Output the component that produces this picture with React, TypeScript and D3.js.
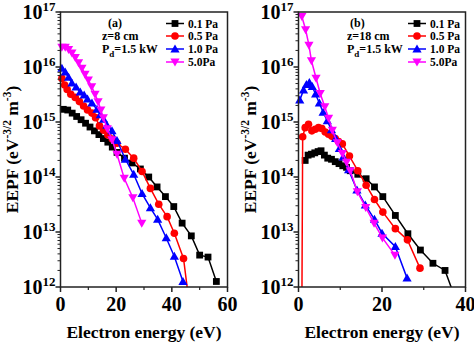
import React from 'react';
import * as d3 from 'd3';

const W = 474;
const H = 357;
const FONT = "'Liberation Serif','Times New Roman',Times,serif";

// ---------- Panel (a): z = 8 cm ----------
const aEnergy01 = [1.0, 2.6, 4.2, 5.8, 7.4, 9.0, 10.6, 12.2, 13.8, 15.4, 17.0, 18.6, 20.3, 23.0, 25.7, 28.7, 31.7, 34.7, 37.7, 40.7, 43.7, 47.0, 50.0, 53.0, 56.0];
const aEepf01 = [1.7e15, 1.65e15, 1.45e15, 1.26e15, 1.1e15, 9.5e14, 8.1e14, 6.9e14, 5.9e14, 5.0e14, 4.3e14, 3.5e14, 2.8e14, 2.2e14, 1.8e14, 1.4e14, 1.0e14, 6.6e13, 4.4e13, 2.9e13, 1.45e13, 8.5e12, 3.8e12, 3.5e12, 1.26e12];

const aEnergy05 = [0.5, 1.5, 2.4, 3.7, 5.3, 6.8, 8.3, 9.7, 11.3, 12.6, 14.0, 15.5, 17.0, 18.6, 20.3, 23.3, 26.3, 29.3, 32.3, 35.3, 38.3, 40.9, 44.2, 46.0];
const aEepf05 = [6.2e15, 4.7e15, 3.9e15, 3.2e15, 2.8e15, 2.35e15, 1.95e15, 1.66e15, 1.45e15, 1.2e15, 8.5e14, 7.1e14, 5.8e14, 4.9e14, 4.1e14, 3.2e14, 2.2e14, 1.26e14, 6.2e13, 3.2e13, 1.9e13, 9.5e12, 3.3e12, 6.3e11];

const aEnergy10 = [0.5, 1.7, 2.9, 4.1, 5.6, 7.1, 8.5, 9.7, 11.3, 13.1, 14.3, 15.5, 16.7, 18.5, 20.3, 23.3, 26.3, 29.3, 32.3, 34.9, 38.0, 40.9, 44.0];
const aEepf10 = [9.5e15, 8.1e15, 6.5e15, 5.1e15, 4.3e15, 3.5e15, 3.1e15, 2.6e15, 2.2e15, 1.7e15, 1.35e15, 1.12e15, 8.7e14, 6.9e14, 4.6e14, 2.1e14, 1.12e14, 5.0e13, 2.75e13, 1.7e13, 7.8e12, 3.6e12, 1.26e12];

const aEnergy50 = [0.5, 1.7, 2.9, 4.1, 5.3, 6.5, 7.7, 8.8, 10.0, 11.2, 12.4, 13.5, 14.5, 15.4, 16.8, 18.5, 20.3, 22.9, 26.0, 29.2];
const aEepf50 = [2.3e16, 2.3e16, 2.1e16, 1.8e16, 1.5e16, 1.2e16, 9.5e15, 7.4e15, 5.8e15, 4.4e15, 3.2e15, 2.35e15, 1.66e15, 1.2e15, 7.6e14, 4.8e14, 2.6e14, 9.5e13, 4.2e13, 1.45e13];

// ---------- Panel (b): z = 18 cm ----------
const bEnergy01 = [1.6, 2.3, 3.1, 3.9, 4.7, 5.4, 6.2, 7.0, 7.9, 8.8, 9.7, 10.6, 11.5, 12.4, 14.2, 16.2, 18.2, 20.2, 23.2, 26.2, 29.2, 32.2, 35.1, 38.0];
const bEepf01 = [2.0e14, 2.5e14, 2.6e14, 2.75e14, 2.9e14, 3.0e14, 2.5e14, 2.2e14, 2.1e14, 1.9e14, 1.75e14, 1.6e14, 1.5e14, 1.3e14, 1.12e14, 9.3e13, 6.6e13, 4.4e13, 2.0e13, 9.3e12, 4.7e12, 2.7e12, 2.0e12, 5.0e11];

const bEnergy05 = [0.8, 1.0, 1.6, 2.4, 3.2, 4.0, 4.8, 5.6, 6.4, 7.2, 8.0, 8.8, 9.6, 10.5, 12.2, 14.2, 16.2, 18.2, 20.2, 23.2, 26.1, 29.1];
const bEepf05 = [3.0e11, 5.4e14, 7.9e14, 9.1e14, 6.9e14, 7.4e14, 7.9e14, 7.6e14, 6.6e14, 6.0e14, 5.5e14, 5.0e14, 4.4e14, 4.0e14, 2.4e14, 1.3e14, 7.1e13, 3.9e13, 2.3e13, 1.15e13, 7.2e12, 2.2e12];

const bEnergy10 = [0.3, 1.2, 1.9, 2.6, 3.3, 4.1, 5.0, 5.9, 6.9, 7.9, 8.9, 9.8, 10.7, 12.0, 14.0, 16.0, 18.2, 20.0, 23.2, 26.0];
const bEepf10 = [2.5e15, 3.8e15, 4.8e15, 5.2e15, 4.4e15, 3.2e15, 2.2e15, 1.5e15, 1.05e15, 7.2e14, 5.0e14, 3.3e14, 2.3e14, 1.35e14, 5.8e13, 3.1e13, 1.7e13, 9.5e12, 5.4e12, 1.45e12];

const bEnergy50 = [0.8, 1.7, 2.5, 3.1, 4.2, 5.2, 6.3, 7.2, 8.1, 9.3, 10.5, 11.5, 12.4, 14.1, 16.1, 18.1, 20.1, 23.1];
const bEepf50 = [8.3e16, 4.8e16, 2.5e16, 1.3e16, 6.3e15, 3.3e15, 1.9e15, 1.17e15, 7.1e14, 4.2e14, 2.7e14, 1.86e14, 1.3e14, 5.4e13, 2.8e13, 1.45e13, 7.8e12, 3.8e12];

// ---------- Axes / legend text ----------
const xTicksA = [0, 20, 40, 60];
const xMinorA = [10, 30, 50];
const xTicksB = [0, 20, 40];
const xMinorB = [10, 30];
const yDecades = [12, 13, 14, 15, 16, 17];
const legendLabels = ['0.1 Pa', '0.5 Pa', '1.0 Pa', '5.0Pa'];
const xTitle = 'Electron energy (eV)';

// styles
const colors = ['#000000', '#ff0000', '#0000ff', '#ff00ff'];
const shapes = ['square', 'circle', 'tri', 'triDown'];

function Marker({ shape, x, y, color }: { shape: string; x: number; y: number; color: string }) {
  if (shape === 'square') return <rect x={x - 3.4} y={y - 3.4} width={6.8} height={6.8} fill={color} />;
  if (shape === 'circle') return <circle cx={x} cy={y} r={3.8} fill={color} />;
  if (shape === 'tri')
    return <path d={`M${x},${y - 4.6}L${x + 4.6},${y + 3.4}L${x - 4.6},${y + 3.4}Z`} fill={color} />;
  return <path d={`M${x},${y + 4.6}L${x + 4.6},${y - 3.4}L${x - 4.6},${y - 3.4}Z`} fill={color} />;
}

type Panel = {
  id: string;
  left: number;
  right: number;
  top: number;
  bottom: number;
  xMax: number;
  xTicks: number[];
  xMinor: number[];
  series: { xs: number[]; ys: number[] }[];
  tag: string;
  zText: string;
  annX: number;
  tagX: number;
  legX: number;
  yTitleX: number;
};

const panels: Panel[] = [
  {
    id: 'a', left: 60.5, right: 227.5, top: 12, bottom: 287, xMax: 60,
    xTicks: xTicksA, xMinor: xMinorA,
    series: [
      { xs: aEnergy01, ys: aEepf01 },
      { xs: aEnergy05, ys: aEepf05 },
      { xs: aEnergy10, ys: aEepf10 },
      { xs: aEnergy50, ys: aEepf50 },
    ],
    tag: '(a)', zText: 'z=8 cm', annX: 102, tagX: 108, legX: 166, yTitleX: 18,
  },
  {
    id: 'b', left: 298.5, right: 465.5, top: 12, bottom: 287, xMax: 40,
    xTicks: xTicksB, xMinor: xMinorB,
    series: [
      { xs: bEnergy01, ys: bEepf01 },
      { xs: bEnergy05, ys: bEepf05 },
      { xs: bEnergy10, ys: bEepf10 },
      { xs: bEnergy50, ys: bEepf50 },
    ],
    tag: '(b)', zText: 'z=18 cm', annX: 347, tagX: 350, legX: 408, yTitleX: 256,
  },
];

function PanelView({ p }: { p: Panel }) {
  const x = d3.scaleLinear().domain([0, p.xMax]).range([p.left, p.right]);
  const y = d3.scaleLog().domain([1e12, 1e17]).range([p.bottom, p.top]);
  const line = d3
    .line<[number, number]>()
    .x((d) => x(d[0]))
    .y((d) => y(d[1]));
  const minorY: number[] = [];
  for (let e = 12; e < 17; e++) for (let m = 2; m <= 9; m++) minorY.push(m * Math.pow(10, e));
  const clipId = 'clip-' + p.id;
  const legYs = [23.5, 36, 49, 62];
  const cx = (p.left + p.right) / 2;
  const cy = (p.top + p.bottom) / 2;
  return (
    <g>
      <defs>
        <clipPath id={clipId}>
          <rect x={p.left - 6} y={p.top - 6} width={p.right - p.left + 12} height={p.bottom - p.top + 6} />
        </clipPath>
      </defs>
      <g clipPath={`url(#${clipId})`}>
        {p.series.map((s, i) => {
          const pts = s.xs.map((v, k) => [v, s.ys[k]] as [number, number]);
          return (
            <g key={i}>
              <path d={line(pts) || ''} fill="none" stroke={colors[i]} strokeWidth={1.5} />
              {pts.map((d, k) => (
                <Marker key={k} shape={shapes[i]} x={x(d[0])} y={y(d[1])} color={colors[i]} />
              ))}
            </g>
          );
        })}
      </g>
      {/* frame */}
      <rect x={p.left} y={p.top} width={p.right - p.left} height={p.bottom - p.top} fill="none" stroke="#222" strokeWidth={1.5} />
      {/* x ticks */}
      {p.xTicks.map((t) => (
        <g key={'xt' + t}>
          <line x1={x(t)} x2={x(t)} y1={p.bottom} y2={p.bottom + 5} stroke="#222" strokeWidth={1.5} />
          <text x={x(t)} y={p.bottom + 24} textAnchor="middle" fontSize={20} fontWeight="bold" fontFamily={FONT}>
            {t}
          </text>
        </g>
      ))}
      {p.xMinor.map((t) => (
        <line key={'xm' + t} x1={x(t)} x2={x(t)} y1={p.bottom} y2={p.bottom + 3} stroke="#222" strokeWidth={1.2} />
      ))}
      {/* y ticks */}
      {yDecades.map((e) => {
        const v = Math.pow(10, e);
        return (
          <g key={'yt' + e}>
            <line x1={p.left - 5} x2={p.left} y1={y(v)} y2={y(v)} stroke="#222" strokeWidth={1.5} />
            <text x={p.left - 5} y={y(v) + 7} textAnchor="end" fontSize={20} fontWeight="bold" fontFamily={FONT}>
              10
              <tspan dy={-8} fontSize={13}>
                {e}
              </tspan>
            </text>
          </g>
        );
      })}
      {minorY.map((v, k) => (
        <line key={'ym' + k} x1={p.left - 3} x2={p.left} y1={y(v)} y2={y(v)} stroke="#222" strokeWidth={1} />
      ))}
      {/* axis titles */}
      <text x={cx} y={p.bottom + 51} textAnchor="middle" fontSize={17.5} fontWeight="bold" fontFamily={FONT}>
        {xTitle}
      </text>
      <text transform={`translate(${p.yTitleX},${cy}) rotate(-90)`} textAnchor="middle" fontSize={17.5} fontWeight="bold" fontFamily={FONT}>
        EEPF (eV
        <tspan dy={-7} fontSize={11.5}>-3/2</tspan>
        <tspan dy={7}> m</tspan>
        <tspan dy={-7} fontSize={11.5}>-3</tspan>
        <tspan dy={7}>)</tspan>
      </text>
      {/* annotations */}
      <text x={p.tagX} y={27} fontSize={12} fontWeight="bold" fontFamily={FONT}>{p.tag}</text>
      <text x={p.annX} y={39.5} fontSize={12} fontWeight="bold" fontFamily={FONT}>{p.zText}</text>
      <text x={p.annX} y={52.5} fontSize={12} fontWeight="bold" fontFamily={FONT}>
        P<tspan dy={4} fontSize={9}>d</tspan>
        <tspan dy={-4}>=1.5 kW</tspan>
      </text>
      {/* legend */}
      {legendLabels.map((lab, i) => (
        <g key={'lg' + i}>
          <line x1={p.legX} x2={p.legX + 18} y1={legYs[i]} y2={legYs[i]} stroke={colors[i]} strokeWidth={1.5} />
          <Marker shape={shapes[i]} x={p.legX + 9} y={legYs[i]} color={colors[i]} />
          <text x={p.legX + 22} y={legYs[i] + 4} fontSize={11.5} fontWeight="bold" fontFamily={FONT}>
            {lab}
          </text>
        </g>
      ))}
    </g>
  );
}

export default function App() {
  return (
    <svg width={W} height={H} viewBox={`0 0 ${W} ${H}`} style={{ display: 'block', position: 'absolute', left: 0, top: 0, background: '#fff' }}>
      <rect x={0} y={0} width={W} height={H} fill="#fff" />
      {panels.map((p) => (
        <PanelView key={p.id} p={p} />
      ))}
    </svg>
  );
}
